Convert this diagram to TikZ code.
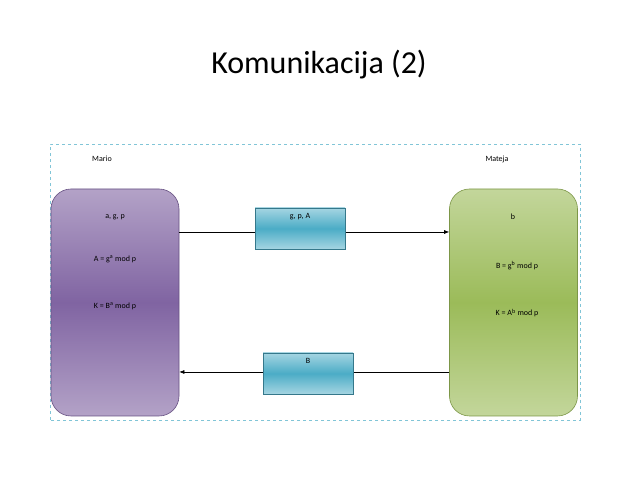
\documentclass[tikz,border=0pt]{standalone}
\usepackage{fontspec}
\setmainfont{Carlito}
\usetikzlibrary{arrows.meta}
\definecolor{frameblue}{HTML}{4BACC6}
\definecolor{violetmid}{HTML}{8064A2}
\definecolor{violetlite}{HTML}{B3A2C7}
\definecolor{greenmid}{HTML}{9BBB59}
\definecolor{greenlite}{HTML}{C3D69B}
\definecolor{cyanlite}{HTML}{A5D5E2}
\definecolor{cyanmid}{HTML}{4BACC6}
\tikzset{
  party/.style={draw=#1, rounded corners=20pt, minimum width=128pt, minimum height=227pt, line width=0.6pt},
  msg/.style={draw=cyanmid!70!black, minimum width=90pt, minimum height=41pt, top color=cyanlite, bottom color=cyanlite, middle color=cyanmid, text depth=26pt, font=\footnotesize},
  txt/.style={font=\footnotesize},
  link/.style={draw=black, line width=0.6pt, -{Latex[length=5pt,width=4pt]}}
}
\begin{document}
\begin{tikzpicture}[x=1pt,y=1pt]
\useasboundingbox (0,0) rectangle (638,478);
% Title
\node (title) at (319,413) {\fontsize{32}{36}\selectfont Komunikacija (2)};
% Frame
\draw[frameblue!70, dashed, line width=0.8pt] (50,58) rectangle (580,334);
\node[txt] (mario) at (102,319) {Mario};
\node[txt] (mateja) at (497,319) {Mateja};
% Parties
\node[party=violetmid!80!black, top color=violetlite, bottom color=violetlite, middle color=violetmid] (alice) at (115,175.5) {};
\node[party=greenmid!80!black, top color=greenlite, bottom color=greenlite, middle color=greenmid] (bob) at (513.5,175.5) {};
% Connectors
\draw[link] (alice.east |- 0,246) -- (bob.west |- 0,246);
\draw[link] (bob.west |- 0,106) -- (alice.east |- 0,106);
% Messages
\node[msg] (gpa) at (300,249.5) {g, p, A};
\node[msg] (bmsg) at (308,104.5) {B};
% Texts
\node[txt] (la) at (115,261) {a, g, p};
\node[txt] (lA) at (115,219) {A = g\textsuperscript{a} mod p};
\node[txt] (lK) at (115,172) {K = B\textsuperscript{a} mod p};
\node[txt] (rb) at (513,261) {b};
\node[txt] (rB) at (517,212) {B = g\textsuperscript{b} mod p};
\node[txt] (rK) at (517,165) {K = A\textsuperscript{b} mod p};
\end{tikzpicture}
\end{document}
